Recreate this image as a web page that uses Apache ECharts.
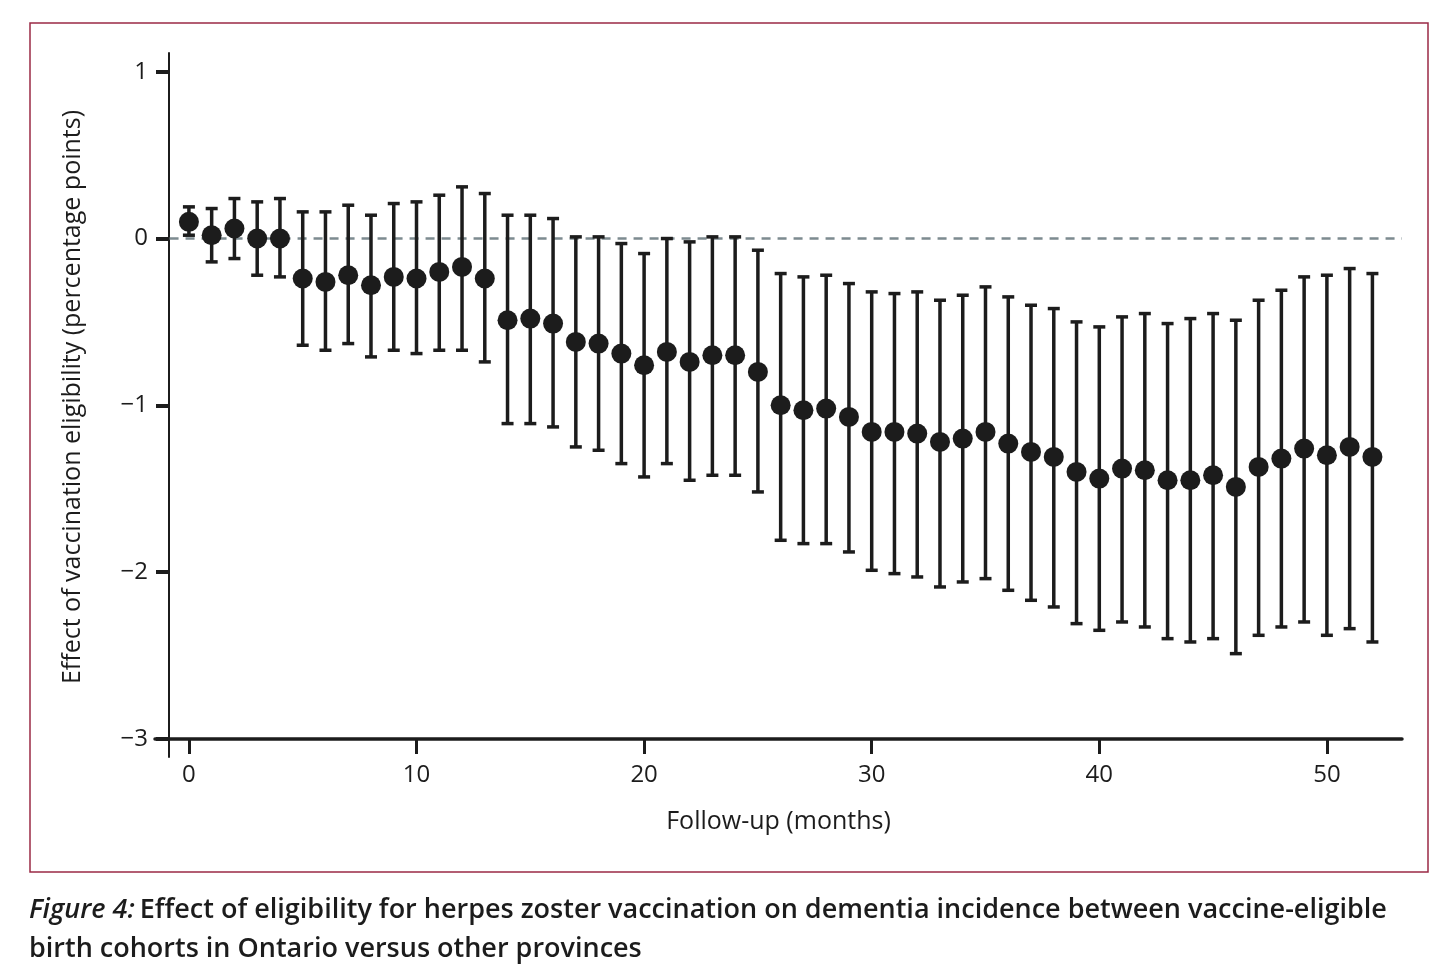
<!DOCTYPE html>
<html><head><meta charset="utf-8">
<script src="https://cdn.jsdelivr.net/npm/echarts@6/dist/echarts.min.js"></script>
<style>html,body{margin:0;padding:0;background:#fff}#c{width:1436px;height:970px}</style>
</head><body><div id="c"></div>
<script>
const months = [0,1,2,3,4,5,6,7,8,9,10,11,12,13,14,15,16,17,18,19,20,21,22,23,24,25,26,27,28,29,30,31,32,33,34,35,36,37,38,39,40,41,42,43,44,45,46,47,48,49,50,51,52];
const estimate = [0.10,0.02,0.06,0.00,0.00,-0.24,-0.26,-0.22,-0.28,-0.23,-0.24,-0.20,-0.17,-0.24,-0.49,-0.48,-0.51,-0.62,-0.63,-0.69,-0.76,-0.68,-0.74,-0.70,-0.70,-0.80,-1.00,-1.03,-1.02,-1.07,-1.16,-1.16,-1.17,-1.22,-1.20,-1.16,-1.23,-1.28,-1.31,-1.40,-1.44,-1.38,-1.39,-1.45,-1.45,-1.42,-1.49,-1.37,-1.32,-1.26,-1.30,-1.25,-1.31];
const lower = [0.02,-0.14,-0.12,-0.22,-0.23,-0.64,-0.67,-0.63,-0.71,-0.67,-0.69,-0.67,-0.67,-0.74,-1.11,-1.11,-1.13,-1.25,-1.27,-1.35,-1.43,-1.35,-1.45,-1.42,-1.42,-1.52,-1.81,-1.83,-1.83,-1.88,-1.99,-2.01,-2.03,-2.09,-2.06,-2.04,-2.11,-2.17,-2.21,-2.31,-2.35,-2.30,-2.33,-2.40,-2.42,-2.40,-2.49,-2.38,-2.33,-2.30,-2.38,-2.34,-2.42];
const upper = [0.19,0.18,0.24,0.22,0.24,0.16,0.16,0.20,0.14,0.21,0.22,0.26,0.31,0.27,0.14,0.14,0.12,0.01,0.01,-0.03,-0.09,0.00,-0.02,0.01,0.01,-0.07,-0.21,-0.23,-0.22,-0.27,-0.32,-0.33,-0.32,-0.37,-0.34,-0.29,-0.35,-0.40,-0.42,-0.50,-0.53,-0.47,-0.45,-0.51,-0.48,-0.45,-0.49,-0.37,-0.31,-0.23,-0.22,-0.18,-0.21];
const xTicks = [0,10,20,30,40,50];
const yTicks = [-3,-2,-1,0,1];
const X_MIN = -1.49, X_MAX = 53.3, Y_MIN = -3.11, Y_MAX = 1.113;
const REF_START = -0.85;

const INK = '#1c1c1c';
const FONT = '"Open Sans", "Noto Sans", sans-serif';
const chart = echarts.init(document.getElementById('c'), null, {renderer:'canvas'});
chart.setOption({
  backgroundColor:'#fff',
  animation:false,
  title:{
    left:29, top:891, padding:0,
    text:'{i|Figure 4:} {b|Effect of eligibility for herpes zoster vaccination on dementia incidence between vaccine-eligible}\n{b|birth cohorts in Ontario versus other provinces}',
    textStyle:{
      rich:{
        i:{fontFamily:FONT, fontStyle:'italic', fontWeight:600, fontSize:27, color:INK, lineHeight:39},
        b:{fontFamily:FONT, fontWeight:600, fontSize:27, color:INK, lineHeight:39}
      }
    }
  },
  graphic:[{type:'rect', shape:{x:30, y:23, width:1398, height:849}, style:{fill:'none', stroke:'#9b2a45', lineWidth:1.5}, silent:true}],
  grid:{left:155, right:34, top:53, bottom:213, containLabel:false},
  xAxis:{
    type:'value', min:X_MIN, max:X_MAX, offset:-18,
    name:'Follow-up (months)', nameLocation:'middle', nameGap:70,
    nameTextStyle:{fontFamily:FONT, fontSize:25, color:INK},
    axisLine:{show:true, onZero:false, lineStyle:{color:INK, width:3.5}},
    axisTick:{show:true, customValues:xTicks, length:15, lineStyle:{color:INK, width:3}},
    axisLabel:{customValues:xTicks, margin:24, fontFamily:FONT, fontSize:24, color:INK},
    splitLine:{show:false}
  },
  yAxis:{
    type:'value', min:Y_MIN, max:Y_MAX, offset:-14,
    name:'Effect of vaccination eligibility (percentage points)', nameLocation:'middle', nameGap:84,
    nameTextStyle:{fontFamily:FONT, fontSize:25, color:INK, padding:[0,0,0,16]},
    axisLine:{show:true, onZero:false, lineStyle:{color:INK, width:2}},
    axisTick:{show:true, customValues:yTicks, length:13, lineStyle:{color:INK, width:4}},
    axisLabel:{customValues:yTicks, margin:21, fontFamily:FONT, fontSize:24, color:INK,
      formatter:v=>String(v).replace('-', '\u2212')},
    splitLine:{show:false}
  },
  series:[
    {
      type:'custom', z:2,
      data: months.map((m,i)=>[m, lower[i], upper[i]]),
      encode:{x:0, y:[1,2]},
      renderItem:function(params, api){
        const x = api.value(0);
        const lo = api.coord([x, api.value(1)]);
        const hi = api.coord([x, api.value(2)]);
        const hw = 6;
        const st = {stroke:INK, lineWidth:3.5};
        return {type:'group', children:[
          {type:'line', shape:{x1:lo[0], y1:lo[1], x2:hi[0], y2:hi[1]}, style:st},
          {type:'line', shape:{x1:lo[0]-hw, y1:lo[1], x2:lo[0]+hw, y2:lo[1]}, style:st},
          {type:'line', shape:{x1:hi[0]-hw, y1:hi[1], x2:hi[0]+hw, y2:hi[1]}, style:st}
        ]};
      }
    },
    {
      type:'scatter', z:3,
      data: months.map((m,i)=>[m, estimate[i]]),
      symbol:'circle', symbolSize:20,
      itemStyle:{color:INK, opacity:1},
      markLine:{
        silent:true, symbol:'none', z:1,
        label:{show:false},
        lineStyle:{color:'#7d8b90', width:2.5, type:[9,7]},
        data:[[{coord:[REF_START,0]},{coord:[X_MAX,0]}]]
      }
    }
  ]
});
</script></body></html>
